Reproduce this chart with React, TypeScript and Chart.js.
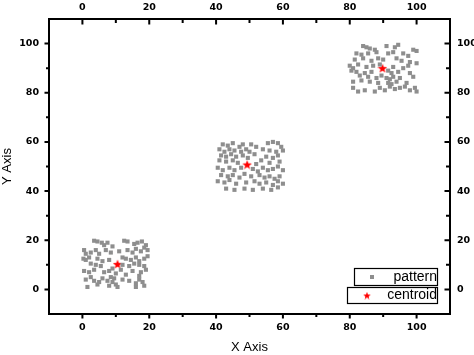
import React, { useEffect, useRef } from 'react';
import { Chart, registerables } from 'chart.js';

Chart.register(...registerables);

// cluster around (10, 10)
const cluster1: number[][] = [
  [3.5, 19.8], [4.5, 19.5], [5.8, 19], [6.5, 18], [7.5, 19], [9, 17.5], [12.5, 19.8], [13.5, 19.5],
  [15.5, 18.5], [16.5, 19], [17.8, 19.5], [19, 18], [18.5, 17], [0.5, 16], [1, 14.5], [2.5, 15],
  [4, 16], [5, 14.5], [7, 16], [8.5, 15], [11, 15.5], [13.5, 16], [15, 15], [16, 16.5], [17.5, 15.5],
  [19.5, 16], [0.3, 12.5], [1, 12], [2, 13], [4.5, 12.5], [6, 11.5], [8, 12], [12, 13], [13, 12.5],
  [14.5, 12], [16, 13], [17, 11.5], [18.5, 12.5], [19.5, 13.5], [2.5, 10.5], [4, 10], [5.5, 9.5],
  [9, 8.5], [12, 10], [14, 9.5], [15.5, 10.5], [17, 10], [18.5, 9.5], [0.5, 7.5], [2, 7], [3.5, 8],
  [6.5, 7], [8, 7.5], [10, 6.5], [11.5, 8], [13, 6], [15, 7.5], [17.5, 7], [19, 8], [1, 4], [2.5, 5],
  [3.5, 3.5], [5, 3], [6, 4.5], [7.5, 3.5], [8.5, 5], [9, 3], [9.5, 4.5], [10, 2], [10.5, 1], [8, 1.5],
  [4.5, 2], [1.5, 1], [12, 4], [14, 3.5], [16, 2.5], [17, 4], [18, 3], [18.5, 1.5], [17, 5.5], [16, 1],
];

// cluster around (50, 50)
const cluster2: number[][] = [
  [42, 59], [43.5, 58.5], [45, 59.5], [47, 58], [48, 59], [50.5, 59], [52, 58], [55.5, 59.5], [57, 60],
  [58.5, 59.5], [59.5, 58], [41, 57], [42.5, 56], [44, 57], [45.5, 56.5], [47.5, 56], [49, 57], [50, 56],
  [54, 57], [56, 56.5], [58, 56], [60, 56.5], [41.5, 54.5], [43, 54], [44.5, 55], [46, 54], [48, 54.5],
  [49.5, 53.5], [51.5, 55], [55, 54], [57, 53.5], [58.5, 54.5], [41, 52.5], [43, 52], [45, 52.5],
  [46.5, 51.5], [52, 51], [53.5, 52.5], [56, 51.5], [59, 52], [40.5, 49.5], [42, 48.5], [44, 49.5],
  [45.5, 48.5], [47.5, 49.5], [51, 49], [52.5, 48], [54, 49.5], [55.5, 48.5], [57, 49], [58.5, 50],
  [60, 48.5], [41.5, 46.5], [43.5, 46], [45, 46.5], [47, 45.5], [48.5, 47], [50.5, 46], [53, 46.5],
  [54.5, 45.5], [56, 46], [57.5, 45], [59, 46], [40.5, 44], [42.5, 43.5], [44, 44.5], [46, 43],
  [49, 43.5], [51.5, 44], [53, 43], [55, 43.5], [57, 42.5], [58.5, 44], [60, 43], [43, 41], [45.5, 40.5],
  [48.5, 41], [51, 40.5], [54, 41], [56.5, 40.5], [58.5, 41.5],
];

// cluster around (90, 90)
const cluster3: number[][] = [
  [84, 99], [85, 98.5], [86, 98], [87.5, 97.5], [91, 99], [93.5, 98.5], [94.5, 99.5], [99, 97.5], [100, 97],
  [82, 96], [83.5, 95.5], [85.5, 96], [88, 96.5], [91.5, 96], [93, 96.5], [96, 96], [97.5, 95],
  [81.5, 93.5], [84, 94], [86.5, 93], [88.5, 94], [90, 93.5], [94, 94], [95.5, 93], [98, 92.5], [100, 92],
  [80, 91], [81, 90], [82.5, 91.5], [85, 90.5], [87, 91], [89, 91.5], [93, 90.5], [96, 90], [97.5, 91],
  [80.5, 89], [82, 88.5], [84.5, 88], [86.5, 88.5], [91.5, 89], [92.5, 88], [94.5, 88.5], [98, 88],
  [83, 87], [85.5, 86.5], [88, 86], [89.5, 87], [91, 86], [92, 85.5], [93, 86.5], [95, 86], [99, 86.5],
  [81, 84.5], [83.5, 85], [86, 84.5], [88.5, 84], [91.5, 84], [92.5, 83.5], [94, 84.5], [97, 84],
  [81, 82], [82.5, 80.5], [84.5, 81], [87.5, 80.5], [89, 82], [90.5, 81], [92, 82.5], [93.5, 81.5],
  [95, 82], [96.5, 82.5], [98, 81], [99.5, 82], [100, 80.5],
];

const centroids: number[][] = [[10.5, 10.3], [49.3, 50.8], [89.8, 90]];

const axisMin = -10;
const axisMax = 110;
const tickStep = 10;
const legendLabels = ['pattern', 'centroid'];

const patternColor = '#8e8e8e';
const centroidColor = '#ff0000';

function makeStar(size: number, color: string): HTMLCanvasElement {
  const c = document.createElement('canvas');
  c.width = size;
  c.height = size;
  const g = c.getContext('2d')!;
  const cx = size / 2;
  const cy = size / 2;
  const ro = size / 2;
  const ri = ro * 0.42;
  g.beginPath();
  for (let i = 0; i < 10; i++) {
    const r = i % 2 === 0 ? ro : ri;
    const a = -Math.PI / 2 + (i * Math.PI) / 5;
    const x = cx + r * Math.cos(a);
    const y = cy + r * Math.sin(a) + size * 0.05;
    if (i === 0) g.moveTo(x, y);
    else g.lineTo(x, y);
  }
  g.closePath();
  g.fillStyle = color;
  g.fill();
  return c;
}

const tickFont = { family: 'DejaVu Sans', size: 9.5, weight: 'bold' as const };
const titleFont = { family: 'Liberation Sans', size: 13 };

function labelCb(v: any) {
  const n = Number(v);
  return n % 20 === 0 ? String(n) : '';
}

export default function App() {
  const ref = useRef<HTMLCanvasElement | null>(null);

  useEffect(() => {
    if (!ref.current) return;
    const starBig = makeStar(10, centroidColor);
    const starSmall = makeStar(8, centroidColor);

    const framePlugin = {
      id: 'frame',
      afterDatasetsDraw(chart: any) {
        const { ctx, chartArea: a, scales } = chart;
        ctx.save();
        ctx.strokeStyle = '#000';
        ctx.lineWidth = 2;
        ctx.strokeRect(a.left, a.top, a.right - a.left, a.bottom - a.top);
        const vals: number[] = [];
        for (let v = axisMin + tickStep; v < axisMax; v += tickStep) vals.push(v);
        ctx.beginPath();
        for (const v of vals) {
          const len = v % 20 === 0 ? 4.5 : 3;
          const xb = scales.x.getPixelForValue(v);
          ctx.moveTo(xb, a.bottom);
          ctx.lineTo(xb, a.bottom + len);
          const xt = scales.x2.getPixelForValue(v);
          ctx.moveTo(xt, a.top);
          ctx.lineTo(xt, a.top + len + 1);
          const yl = scales.y.getPixelForValue(v);
          ctx.moveTo(a.left, yl);
          ctx.lineTo(a.left - len, yl);
          const yr = scales.y2.getPixelForValue(v);
          ctx.moveTo(a.right, yr);
          ctx.lineTo(a.right - len - 1, yr);
        }
        ctx.stroke();
        ctx.restore();
      },
      afterDraw(chart: any) {
        const { ctx, chartArea: a } = chart;
        ctx.save();
        const boxes = [
          { x: a.right - 96, y: a.bottom - 46, w: 83, h: 17 },
          { x: a.right - 103, y: a.bottom - 27, w: 90, h: 16 },
        ];
        ctx.lineWidth = 1.2;
        ctx.strokeStyle = '#000';
        boxes.forEach((b, i) => {
          ctx.fillStyle = '#fff';
          ctx.fillRect(b.x, b.y, b.w, b.h);
          ctx.strokeRect(b.x + 0.5, b.y + 0.5, b.w, b.h);
          const cy = b.y + b.h / 2 + 0.5;
          if (i === 0) {
            ctx.fillStyle = patternColor;
            ctx.fillRect(b.x + 16, cy - 2, 4, 4);
          } else {
            ctx.drawImage(starSmall, b.x + 16, cy - 4);
          }
          ctx.fillStyle = '#000';
          ctx.font = '14px "Liberation Sans"';
          ctx.textAlign = 'right';
          ctx.textBaseline = 'middle';
          ctx.fillText(legendLabels[i], b.x + b.w, cy);
        });
        ctx.restore();
      },
    };

    const baseTicks = {
      stepSize: tickStep,
      autoSkip: false,
      maxRotation: 0,
      color: '#000',
      font: tickFont,
      callback: labelCb,
    };
    const baseGrid = { display: false, drawTicks: false };

    const chart = new Chart(ref.current, {
      type: 'scatter',
      data: {
        datasets: [
          {
            label: legendLabels[0],
            data: [...cluster1, ...cluster2, ...cluster3].map(([x, y]) => ({ x, y })),
            pointStyle: 'rect',
            pointRadius: 2.9,
            borderWidth: 0,
            backgroundColor: patternColor,
            xAxisID: 'x',
            yAxisID: 'y',
          },
          {
            label: legendLabels[1],
            data: centroids.map(([x, y]) => ({ x, y })),
            pointStyle: starBig as any,
            pointRadius: 5,
            backgroundColor: centroidColor,
            xAxisID: 'x',
            yAxisID: 'y',
          },
        ],
      },
      options: {
        animation: false,
        responsive: false,
        devicePixelRatio: 1,
        layout: { padding: 0 },
        plugins: { legend: { display: false }, tooltip: { enabled: false } },
        scales: {
          x: {
            type: 'linear',
            position: 'bottom',
            min: axisMin,
            max: axisMax,
            grid: baseGrid,
            border: { display: false },
            ticks: { ...baseTicks, padding: 8 },
            title: { display: true, text: 'X Axis', color: '#000', font: titleFont, padding: 0 },
            afterFit: (s: any) => { s.height = 41; },
          },
          x2: {
            type: 'linear',
            position: 'top',
            min: axisMin,
            max: axisMax,
            grid: baseGrid,
            border: { display: false },
            ticks: { ...baseTicks, padding: 6 },
            afterFit: (s: any) => { s.height = 19; },
          },
          y: {
            type: 'linear',
            position: 'left',
            min: axisMin,
            max: axisMax,
            grid: baseGrid,
            border: { display: false },
            ticks: { ...baseTicks, padding: 10 },
            title: { display: true, text: 'Y Axis', color: '#000', font: titleFont, padding: 0 },
            afterFit: (s: any) => { s.width = 49; },
          },
          y2: {
            type: 'linear',
            position: 'right',
            min: axisMin,
            max: axisMax,
            grid: baseGrid,
            border: { display: false },
            ticks: { ...baseTicks, padding: 7 },
            afterFit: (s: any) => { s.width = 24; },
          },
        },
      } as any,
      plugins: [framePlugin],
    });
    return () => chart.destroy();
  }, []);

  return (
    <div style={{ position: 'absolute', left: 0, top: 0, width: 474, height: 355, background: '#fff' }}>
      <canvas ref={ref} width={474} height={355} style={{ display: 'block' }} />
    </div>
  );
}
